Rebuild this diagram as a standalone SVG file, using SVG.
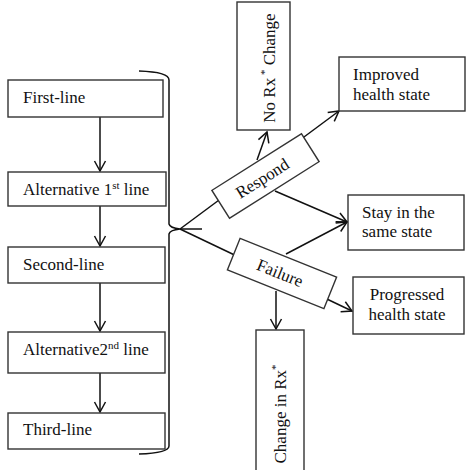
<svg xmlns="http://www.w3.org/2000/svg" width="474" height="470" viewBox="0 0 474 470">
<defs>
<marker id="ah" markerUnits="userSpaceOnUse" markerWidth="14" markerHeight="14" refX="11" refY="6" orient="auto" viewBox="0 0 14 12">
<path d="M1,0.5 L11,6 L1,11.5" fill="none" stroke="#111" stroke-width="1.5"/>
</marker>
</defs>
<rect width="474" height="470" fill="#fff"/>
<g id="connectors" fill="none" stroke="#111" stroke-width="1.5">
<line x1="100" y1="117" x2="100" y2="171" marker-end="url(#ah)"/>
<line x1="100" y1="206" x2="100" y2="246" marker-end="url(#ah)"/>
<line x1="100" y1="283" x2="100" y2="331" marker-end="url(#ah)"/>
<line x1="100" y1="373" x2="100" y2="412" marker-end="url(#ah)"/>
<path d="M139,71 Q169,72 169,80 L169,224 Q170,228 180,229 Q170,230 169,234 L169,446 Q169,453 139,454"/>
<line x1="180" y1="229" x2="202" y2="229"/>
<line x1="180" y1="229" x2="339" y2="111" marker-end="url(#ah)"/>
<line x1="180" y1="229" x2="352" y2="311" marker-end="url(#ah)"/>
<line x1="257" y1="160" x2="267" y2="132" marker-end="url(#ah)"/>
<line x1="275" y1="191" x2="347" y2="222" marker-end="url(#ah)"/>
<line x1="286" y1="254" x2="347" y2="222" marker-end="url(#ah)"/>
<line x1="276" y1="291" x2="276" y2="329" marker-end="url(#ah)"/>
</g>
<g id="nodes" font-family="Liberation Serif" font-size="17" fill="#111">
<g id="first-line"><rect fill="#fff" stroke="#333" stroke-width="1.4" x="8" y="80" width="155" height="37"/><text x="23" y="103">First-line</text></g>
<g id="alt-first"><rect fill="#fff" stroke="#333" stroke-width="1.4" x="8" y="172" width="158" height="34"/><text x="23" y="195">Alternative 1<tspan font-size="11" dy="-6">st</tspan><tspan dy="6"> line</tspan></text></g>
<g id="second-line"><rect fill="#fff" stroke="#333" stroke-width="1.4" x="8" y="247" width="157" height="36"/><text x="23" y="270">Second-line</text></g>
<g id="alt-second"><rect fill="#fff" stroke="#333" stroke-width="1.4" x="8" y="332" width="157" height="41"/><text x="23" y="355">Alternative2<tspan font-size="11" dy="-6">nd</tspan><tspan dy="6"> line</tspan></text></g>
<g id="third-line"><rect fill="#fff" stroke="#333" stroke-width="1.4" x="8" y="413" width="157" height="36"/><text x="23" y="435">Third-line</text></g>
<g id="no-rx-change"><rect fill="#fff" stroke="#333" stroke-width="1.4" x="237" y="2" width="53" height="128"/><text text-anchor="middle" transform="translate(275,68) rotate(-90)">No Rx<tspan font-size="11" dy="-7"> *</tspan><tspan dy="7"> Change</tspan></text></g>
<g id="improved"><rect fill="#fff" stroke="#333" stroke-width="1.4" x="339" y="57" width="126" height="54"/><text x="353" y="80">Improved</text><text x="353" y="100">health state</text></g>
<g id="stay"><rect fill="#fff" stroke="#333" stroke-width="1.4" x="348" y="195" width="116" height="55"/><text x="362" y="218">Stay in the</text><text x="362" y="237">same state</text></g>
<g id="progressed"><rect fill="#fff" stroke="#333" stroke-width="1.4" x="353" y="277" width="111" height="57"/><text text-anchor="middle" x="407" y="300">Progressed</text><text text-anchor="middle" x="407" y="320">health state</text></g>
<g id="change-rx"><rect fill="#fff" stroke="#333" stroke-width="1.4" x="256" y="330" width="48" height="150"/><text text-anchor="middle" transform="translate(286,414) rotate(-90)">Change in Rx<tspan font-size="11" dy="-7">*</tspan></text></g>
<g id="respond" transform="translate(265.5,176) rotate(-32.3)"><rect fill="#fff" stroke="#333" stroke-width="1.4" x="-53" y="-16.5" width="106" height="33"/><text text-anchor="middle" x="-4" y="6">Respond</text></g>
<g id="failure" transform="translate(282,273.5) rotate(21.9)"><rect fill="#fff" stroke="#333" stroke-width="1.4" x="-52" y="-17" width="104" height="34"/><text text-anchor="middle" x="-2" y="6">Failure</text></g>
</g>
</svg>
